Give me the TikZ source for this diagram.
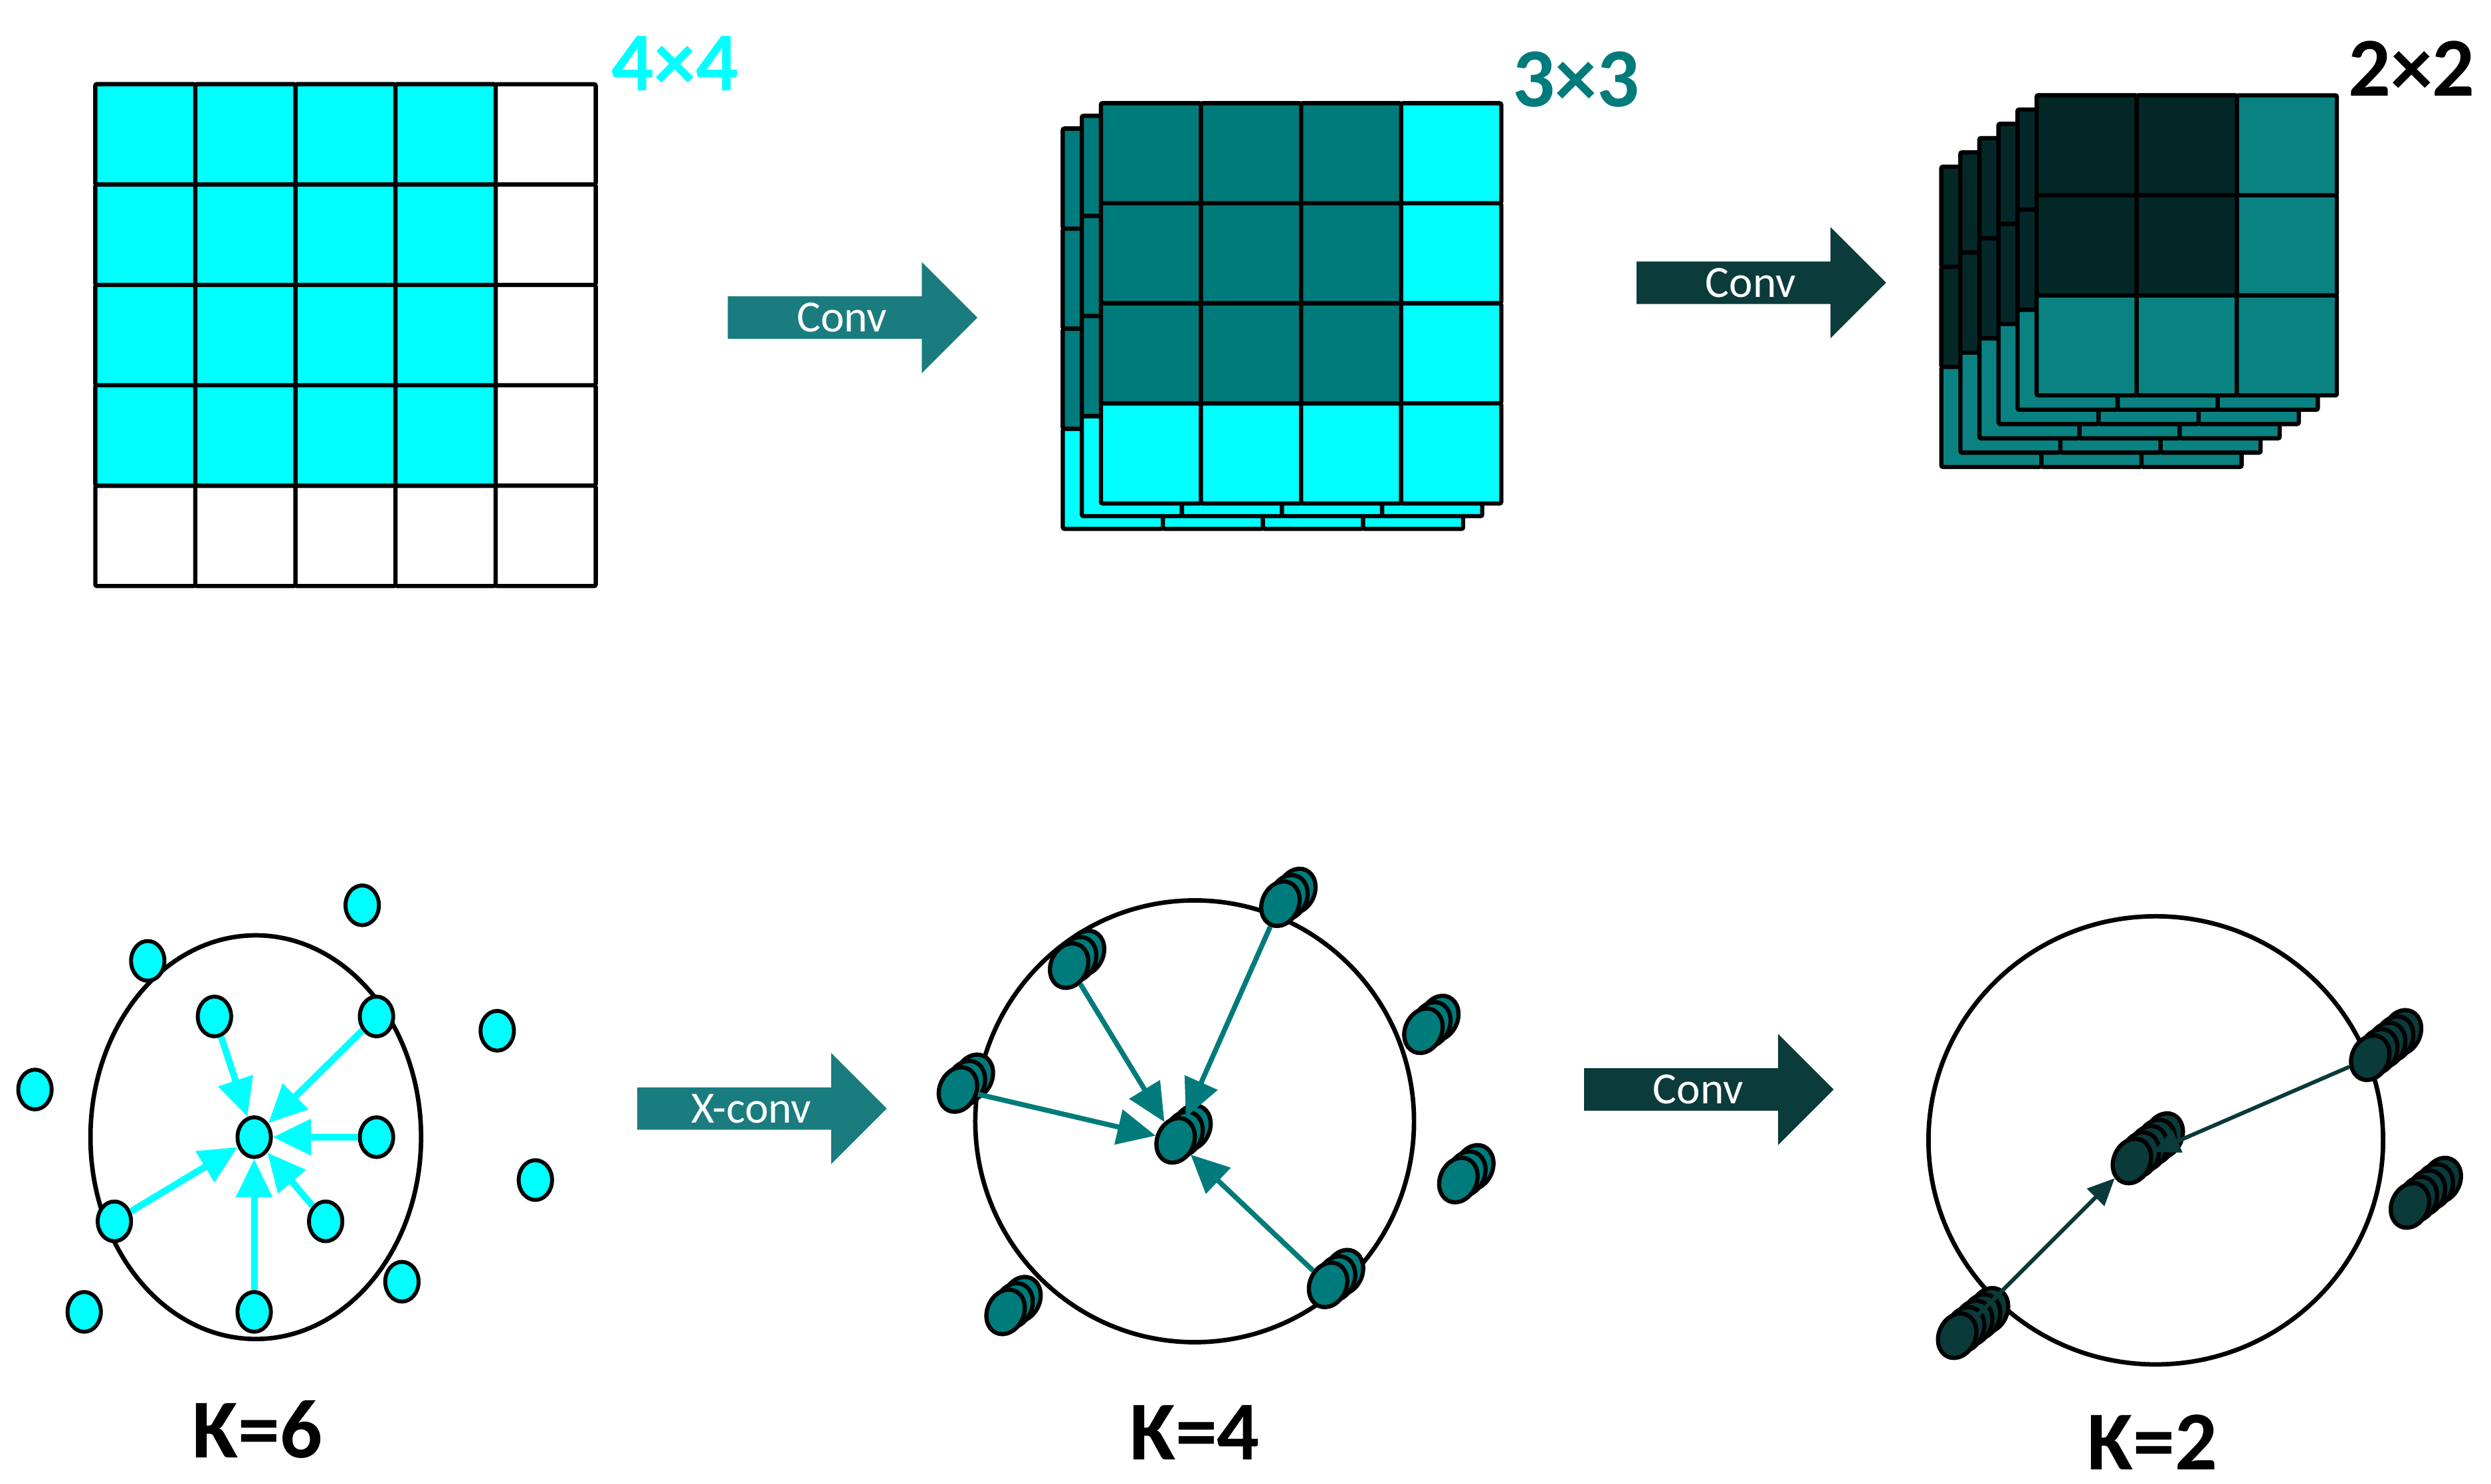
\documentclass[tikz,border=0pt]{standalone}
\usepackage{fontspec}
\setmainfont{Carlito}
\usetikzlibrary{shapes.geometric,shapes.arrows,arrows.meta}
\definecolor{cy}{HTML}{00FFFF}
\definecolor{tl}{HTML}{007B7B}
\definecolor{tl2}{HTML}{0A8282}
\definecolor{dk}{HTML}{0A3A3A}
\definecolor{dkk}{HTML}{042828}
\definecolor{arT}{HTML}{1A7C7E}
\definecolor{arD}{HTML}{0B3B3B}
\tikzset{
  cell/.style={draw=black,line width=0.75pt,rounded corners=0.3pt},
  bigarrow/.style={single arrow,draw=none,minimum width=0.7cm,single arrow head extend=0.16cm,minimum height=1.57cm,inner sep=0pt,text=white,font=\fontsize{8}{9}\selectfont},
  dot/.style={ellipse,draw=black,line width=0.7pt,fill=cy,minimum width=0.21cm,minimum height=0.25cm,inner sep=0pt},
  disc/.style={ellipse,draw=black,line width=0.75pt,minimum width=0.23cm,minimum height=0.29cm,inner sep=0pt,rotate=-25},
  klab/.style={font=\fontsize{15}{16}\selectfont\bfseries},
  dimlab/.style={font=\fontsize{15}{16}\selectfont\bfseries},
}
\newcommand\mycyl[6]{% name, x, y, n-1, fill, dx
  \foreach \i in {#4,...,1}{\node[disc,fill=#5] at (#2+#6*\i,#3-0.8*#6*\i) {};}
  \node[disc,fill=#5] (#1) at (#2,#3) {};}
\begin{document}
\begin{tikzpicture}[x=0.01cm,y=-0.01cm]
\useasboundingbox (0,0) rectangle (1568,934);
% ---- grid 1
\foreach \i in {0,...,4}\foreach \j in {0,...,4}{
  \draw[cell,fill=white] (60+63*\i,53+63.2*\j) rectangle ++(63,63.2);}
\foreach \i in {0,...,3}\foreach \j in {0,...,3}{
  \draw[cell,fill=cy] (60+63*\i,53+63.2*\j) rectangle ++(63,63.2);}
\node[dimlab,text=cy] (l44) at (425,40) {4×4};
% ---- stack 2
\foreach \k in {2,1,0}{
  \foreach \i in {0,...,3}\foreach \j in {0,...,3}{
    \draw[cell,fill=cy] (693-12*\k+63*\i,65+8*\k+63*\j) rectangle ++(63,63);}
  \foreach \i in {0,...,2}\foreach \j in {0,...,2}{
    \draw[cell,fill=tl] (693-12*\k+63*\i,65+8*\k+63*\j) rectangle ++(63,63);}
}
\node[dimlab,text=tl] (l33) at (992,50) {3×3};
% ---- stack 3
\foreach \k in {5,4,...,0}{
  \foreach \i in {0,...,2}\foreach \j in {0,...,2}{
    \draw[cell,fill=tl2] (1282-12*\k+63*\i,60+9*\k+63*\j) rectangle ++(63,63);}
  \foreach \i in {0,1}\foreach \j in {0,1}{
    \draw[cell,fill=dkk] (1282-12*\k+63*\i,60+9*\k+63*\j) rectangle ++(63,63);}
}
\node[dimlab,text=black] (l22) at (1518,43) {2×2};
% ---- big arrows
\node[bigarrow,fill=arT] (a1) at (530,200) {Conv\hspace{0.25cm}};
\node[bigarrow,fill=arD] (a2) at (1102,178) {Conv\hspace{0.25cm}};
\node[bigarrow,fill=arT] (a3) at (473,698) {X-conv\hspace{0.25cm}};
\node[bigarrow,fill=arD] (a4) at (1069,686) {Conv\hspace{0.25cm}};
% ---- panel 1
\draw[line width=0.8pt] (161,716) ellipse [x radius=1.04cm, y radius=1.27cm];
\foreach \n/\x/\y in {p1/228/570,p2/93/605,p3/135/640,p4/237/640,p5/313/649,p6/22/686,c1/160/716,p7/237/716,p8/337/743,p9/72/769,p10/205/769,p11/253/807,p12/53/826,p13/160/826}{
  \node[dot] (\n) at (\x,\y) {};}
\foreach \n in {p3,p4,p7,p10,p9,p13}{
  \draw[cy,line width=1.2pt,-{Triangle[length=0.24cm,width=0.22cm]}] (\n) -- (c1);}
% ---- panel 2
\draw[line width=0.8pt] (752,706) ellipse [x radius=1.38cm, y radius=1.39cm];
\foreach \n/\x/\y in {q1/806/569,q2/673/608,q3/896/649,q4/603/686,c2/740/718,q5/918/743,q6/836/809,q7/633/826}{
  \mycyl{\n}{\x}{\y}{2}{tl}{5}}
\foreach \n in {q1,q2,q4,q6}{
  \draw[tl,line width=0.9pt,-{Triangle[length=0.24cm,width=0.22cm]}] (\n) -- (c2);}
% ---- panel 3
\draw[line width=0.8pt] (1357,718) ellipse [x radius=1.43cm, y radius=1.41cm];
\foreach \n/\x/\y in {r1/1492/666,c3/1342/731,r2/1517/759,r3/1232/841}{
  \mycyl{\n}{\x}{\y}{4}{dk}{5}}
\foreach \n in {r1,r3}{
  \draw[dk,line width=0.7pt,-{Triangle[length=0.17cm,width=0.15cm]}] (\n) -- (c3);}
% ---- labels
\node[klab] (k6) at (162,900) {K=6};
\node[klab] (k4) at (752,902) {K=4};
\node[klab] (k2) at (1355,908) {K=2};
\end{tikzpicture}
\end{document}
